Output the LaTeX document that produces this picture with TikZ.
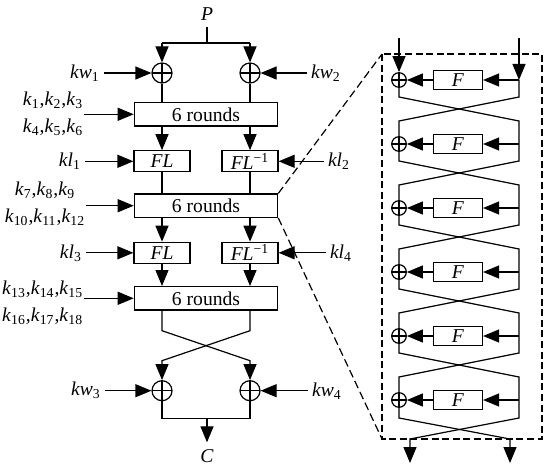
\documentclass[tikz,border=0pt]{standalone}
\usepackage{fontspec}
\setmainfont{Liberation Serif}
\usetikzlibrary{arrows.meta}

\newcommand{\subkey}[1]{\textit{k}\textsubscript{#1}}

\begin{document}
\begin{tikzpicture}[x=0.5pt,y=-0.5pt,font=\fontsize{9.8}{13.5}\selectfont]
    % Define the styles for the blocks and arrows
    \tikzstyle{roundbox}=[rectangle, draw=black, line width=0.6pt, minimum width=71.7pt, minimum height=11.7pt, inner sep=0pt]
    \tikzstyle{flbox}=[rectangle, draw=black, line width=0.6pt, minimum width=28pt, minimum height=10.5pt, inner sep=0pt]
    \tikzstyle{fbox}=[rectangle, draw=black, line width=0.6pt, minimum width=24.5pt, minimum height=9.75pt, inner sep=0pt]
    \tikzstyle{xor}=[circle, draw=black, line width=0.6pt, minimum size=10pt, inner sep=0pt, path picture={\draw[line width=0.6pt] (path picture bounding box.north) -- (path picture bounding box.south) (path picture bounding box.west) -- (path picture bounding box.east);}]
    \tikzstyle{smallxor}=[xor, minimum size=7.3pt]
    \tikzstyle{lbl}=[inner sep=2pt]
    \tikzstyle{keys}=[inner sep=0pt, align=center]
    \tikzstyle{wire}=[line width=0.6pt]
    \tikzstyle{arrow}=[line width=0.6pt,-{Triangle[length=8pt,width=6.5pt]}]
    \tikzstyle{zoomline}=[line width=0.6pt, dash pattern=on 4pt off 2pt]
    \tikzstyle{zoombox}=[line width=0.6pt, dash pattern=on 3.5pt off 1.8pt]

    \useasboundingbox (0,0) rectangle (550,470);

    % Draw the left chain
    \node (P) at (207,14) {\textit{P}};
    \coordinate (split) at (207,43);
    \node[xor] (xa) at (162,73) {};
    \node[xor] (xb) at (250,73) {};
    \node[roundbox] (rnd1) at (206,114.3) {6 rounds};
    \node[flbox] (fla) at (162,161.3) {\textit{FL}};
    \node[flbox] (flinva) at (250,161.3) {\textit{FL}\textsuperscript{−1}};
    \node[roundbox] (rnd2) at (206,205.7) {6 rounds};
    \node[flbox] (flb) at (162,252.8) {\textit{FL}};
    \node[flbox] (flinvb) at (250,252.8) {\textit{FL}\textsuperscript{−1}};
    \node[roundbox] (rnd3) at (206,298.3) {6 rounds};
    \coordinate (cl) at (162,330.7);
    \coordinate (cr) at (250,330.7);
    \coordinate (dl) at (162,360.7);
    \coordinate (dr) at (250,360.7);
    \node[xor] (xc) at (162,390.7) {};
    \node[xor] (xd) at (250,390.7) {};
    \coordinate (merge) at (207,418.3);
    \node (C) at (207,456) {\textit{C}};

    % Draw the key labels
    \node[lbl] (kw1) at (85,73) {\textit{kw}\textsubscript{1}};
    \node[lbl] (kw2) at (326,73) {\textit{kw}\textsubscript{2}};
    \node[keys] (keys1) at (53,113.5) {\subkey{1},\subkey{2},\subkey{3}\\\subkey{4},\subkey{5},\subkey{6}};
    \node[lbl] (kl1) at (70,161.3) {\textit{kl}\textsubscript{1}};
    \node[lbl] (kl2) at (339,161.3) {\textit{kl}\textsubscript{2}};
    \node[keys] (keys2) at (45,203.5) {\subkey{7},\subkey{8},\subkey{9}\\\subkey{10},\subkey{11},\subkey{12}};
    \node[lbl] (kl3) at (71,252.8) {\textit{kl}\textsubscript{3}};
    \node[lbl] (kl4) at (341,252.8) {\textit{kl}\textsubscript{4}};
    \node[keys] (keys3) at (42.7,302.5) {\subkey{13},\subkey{14},\subkey{15}\\\subkey{16},\subkey{17},\subkey{18}};
    \node[lbl] (kw3) at (86,390.7) {\textit{kw}\textsubscript{3}};
    \node[lbl] (kw4) at (327,390.7) {\textit{kw}\textsubscript{4}};

    % Draw the arrows of the left chain
    \draw[wire] (P) -- (split);
    \draw[wire] (xa |- split) -- (xb |- split);
    \draw[arrow] (xa |- split) -- (xa);
    \draw[arrow] (xb |- split) -- (xb);
    \draw[arrow] (kw1) -- (xa);
    \draw[arrow] (kw2) -- (xb);
    \draw[wire] (xa) -- (xa |- rnd1.north);
    \draw[wire] (xb) -- (xb |- rnd1.north);
    \draw[arrow] (keys1.east |- rnd1) -- (rnd1);
    \draw[arrow] (fla |- rnd1.south) -- (fla);
    \draw[arrow] (flinva |- rnd1.south) -- (flinva);
    \draw[arrow] (kl1) -- (fla);
    \draw[arrow] (kl2) -- (flinva);
    \draw[wire] (fla) -- (fla |- rnd2.north);
    \draw[wire] (flinva) -- (flinva |- rnd2.north);
    \draw[arrow] (keys2.east |- rnd2) -- (rnd2);
    \draw[arrow] (flb |- rnd2.south) -- (flb);
    \draw[arrow] (flinvb |- rnd2.south) -- (flinvb);
    \draw[arrow] (kl3) -- (flb);
    \draw[arrow] (kl4) -- (flinvb);
    \draw[arrow] (flb) -- (flb |- rnd3.north);
    \draw[arrow] (flinvb) -- (flinvb |- rnd3.north);
    \draw[arrow] (keys3.east |- rnd3) -- (rnd3);
    \draw[arrow] (xc |- rnd3.south) -- (cl) -- (dr) -- (xd);
    \draw[arrow] (xd |- rnd3.south) -- (cr) -- (dl) -- (xc);
    \draw[arrow] (kw3) -- (xc);
    \draw[arrow] (kw4) -- (xd);
    \draw[wire] (xc) -- (xc |- merge) -- (xd |- merge) -- (xd);
    \draw[arrow] (merge) -- (C);

    % Draw the detail of one 6 rounds block
    \coordinate (ztl) at (382,54);
    \coordinate (zbl) at (382,439);
    \coordinate (zbr) at (542,439);
    \draw[zoombox] (ztl) rectangle (zbr);
    \draw[zoomline] (rnd2.north east) -- (ztl);
    \draw[zoomline] (rnd2.south east) -- (zbl);

    \coordinate (inl) at (399,38);
    \coordinate (inr) at (519,38);
    \coordinate (outl) at (410,463);
    \coordinate (outr) at (510,463);
    \foreach \i in {1,...,6} {
        \node[smallxor] (s\i) at (399,16+64*\i) {};
        \node[fbox] (f\i) at (458,16+64*\i) {\textit{F}};
        \coordinate (t\i) at (519,16+64*\i);
        \draw[arrow] (t\i) -- (f\i);
        \draw[arrow] (f\i) -- (s\i);
    }
    \draw[arrow] (inl) -- (s1);
    \draw[arrow] (inr) -- (t1);
    \foreach \i in {1,...,5} {
        \pgfmathtruncatemacro{\j}{\i+1}
        \pgfmathsetmacro{\yc}{16+64*\i}
        \draw[wire] (s\i.south) -- (399,\yc+17) -- (519,\yc+41) -- (t\j);
        \draw[wire] (t\i) -- (519,\yc+17) -- (399,\yc+41) -- (s\j);
    }
    \draw[arrow] (s6.south) -- (399,418) -- (510,439) -- (outr);
    \draw[arrow] (t6) -- (519,418) -- (410,439) -- (outl);
\end{tikzpicture}
\end{document}
